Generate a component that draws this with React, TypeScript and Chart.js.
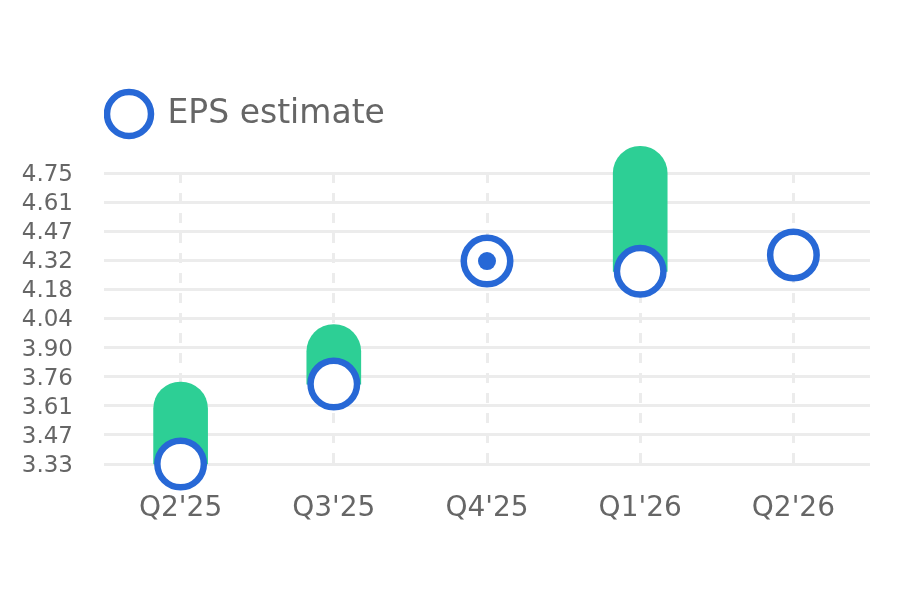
import React, { useEffect, useRef } from "react";
import { Chart, registerables } from "chart.js";

Chart.register(...registerables);

const categories = ["Q2'25", "Q3'25", "Q4'25", "Q1'26", "Q2'26"];
const epsEstimate = [3.33, 3.72, 4.32, 4.27, 4.35];
const epsActual: (number | null)[] = [3.73, 4.01, 4.32, 4.88, null];
const yTickValues = [3.33, 3.472, 3.614, 3.756, 3.898, 4.04, 4.182, 4.324, 4.466, 4.608, 4.75];

const BLUE = "#2768d6";
const GREEN = "#2dcf95";
const TEXT = "#666666";
const GRID = "#ececec";

export default function App() {
  const ref = useRef<HTMLCanvasElement | null>(null);

  useEffect(() => {
    if (!ref.current) return;
    Chart.defaults.font.family = "'DejaVu Sans', sans-serif";
    const barData = categories.map((_, i) => {
      const a = epsActual[i];
      return a != null && a !== epsEstimate[i] ? [epsEstimate[i], a] : null;
    });
    const dotData = categories.map((_, i) => {
      const a = epsActual[i];
      return a != null && a === epsEstimate[i] ? a : null;
    });

    const chart = new Chart(ref.current, {
      type: "bar",
      data: {
        labels: categories,
        datasets: [
          {
            type: "line",
            label: "EPS estimate",
            data: epsEstimate,
            showLine: false,
            pointRadius: 23.25,
            pointHoverRadius: 23.25,
            pointBorderWidth: 6.5,
            pointBackgroundColor: "#ffffff",
            pointBorderColor: BLUE,
            borderColor: BLUE,
            backgroundColor: "#ffffff",
            order: 1,
            clip: false,
          } as any,
          {
            type: "bar",
            label: "EPS actual",
            data: barData as any,
            backgroundColor: GREEN,
            borderRadius: 27,
            barThickness: 54,
            order: 2,
            clip: false,
          } as any,
          {
            type: "line",
            label: "EPS match",
            data: dotData,
            showLine: false,
            pointRadius: 9,
            pointHoverRadius: 9,
            pointBorderWidth: 0,
            pointBackgroundColor: BLUE,
            borderColor: BLUE,
            order: 0,
            clip: false,
          } as any,
        ],
      },
      options: {
        responsive: false,
        animation: false,
        events: [],
        layout: { padding: { top: 86.5, left: 22, right: 30, bottom: 46.4 } },
        plugins: {
          legend: {
            position: "top",
            align: "start",
            fullSize: false,
            title: { display: true, text: " ", padding: 0, font: { size: 8, lineHeight: 1 } },
            labels: {
              filter: (item: any) => item.datasetIndex === 0,
              usePointStyle: true,
              pointStyle: "circle",
              pointStyleWidth: 44,
              boxHeight: 31,
              padding: 3,
              color: TEXT,
              font: { size: 33 },
            },
          } as any,
          subtitle: {
            display: true,
            text: "",
            weight: 500,
            padding: { top: 0, bottom: 31.5 },
            font: { size: 1, lineHeight: 1 },
          } as any,
          tooltip: { enabled: false },
        },
        scales: {
          x: {
            grid: { display: true, offset: false, drawTicks: false, color: GRID, lineWidth: 3 },
            border: { display: false, dash: [10, 10] },
            ticks: { padding: 28, color: TEXT, font: { size: 28 }, maxRotation: 0 },
          },
          y: {
            min: 3.33,
            max: 4.75,
            afterBuildTicks: (s: any) => {
              s.ticks = yTickValues.map((v) => ({ value: v }));
            },
            afterFit: (s: any) => {
              s.width = 82;
            },
            grid: { drawTicks: false, color: GRID, lineWidth: 3 },
            border: { display: false },
            ticks: {
              autoSkip: false,
              padding: 31,
              labelOffset: 2,
              color: TEXT,
              font: { size: 23 },
              callback: (v: any) => Number(v).toFixed(2),
            },
          },
        },
      } as any,
    });
    return () => chart.destroy();
  }, []);

  return (
    <div style={{ position: "absolute", left: 0, top: 0, width: 900, height: 600, background: "#fff" }}>
      <canvas ref={ref} width={900} height={600} style={{ display: "block" }} />
    </div>
  );
}
